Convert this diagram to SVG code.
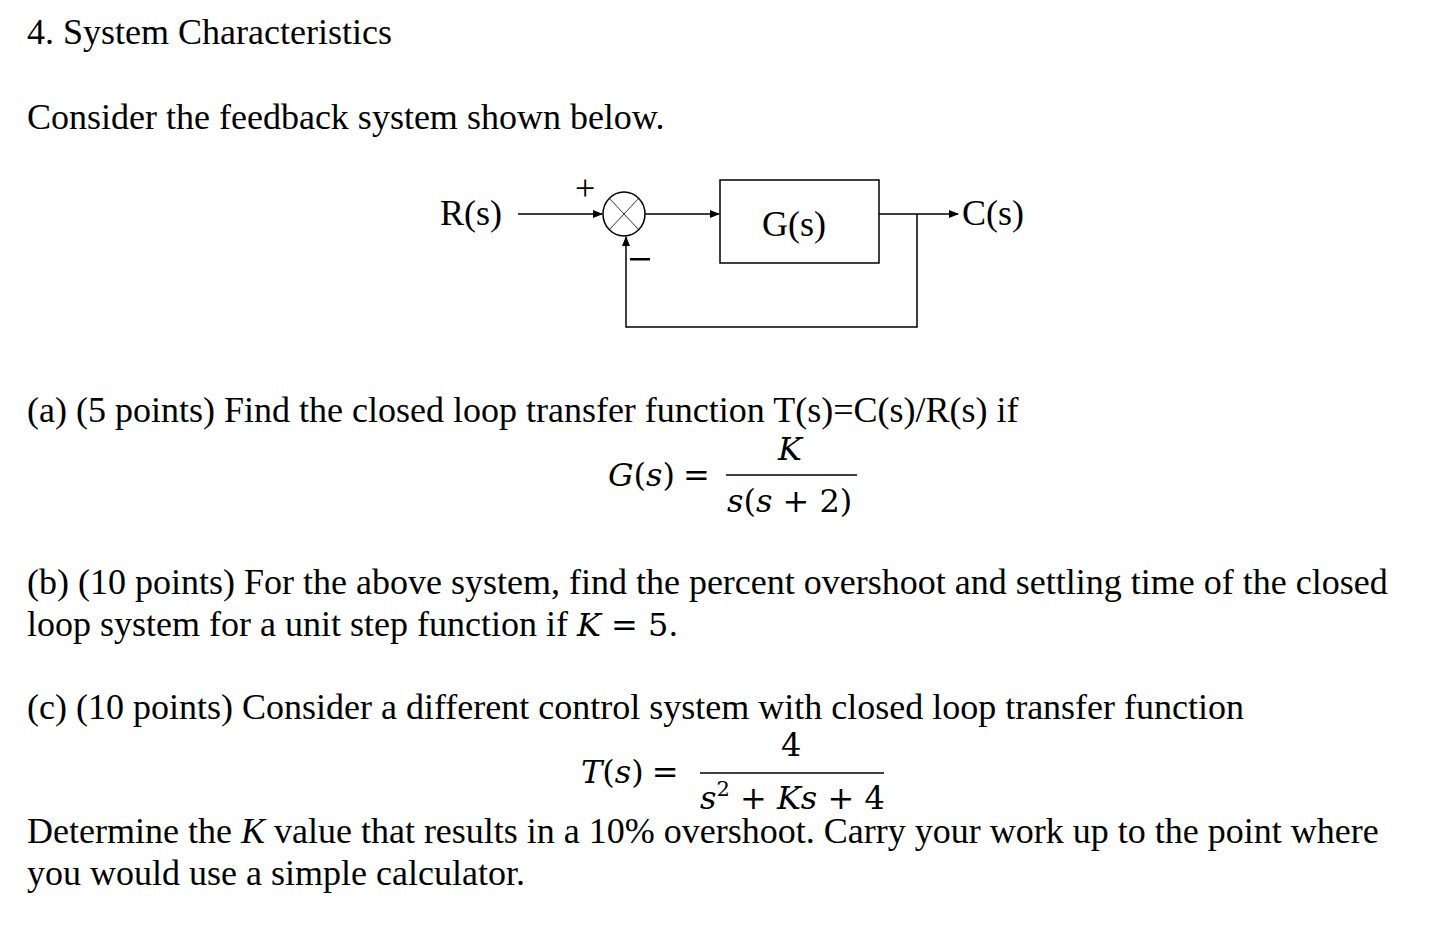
<svg xmlns="http://www.w3.org/2000/svg" width="1434" height="930" viewBox="0 0 1434 930">
<style>
.t{font-family:"Liberation Serif",serif;font-size:36px;fill:#000}
.m{font-family:"DejaVu Serif","Liberation Serif",serif;font-size:32px;fill:#000}
.i{font-style:italic}
.ln{stroke:#000;stroke-width:1.5;fill:none}
</style>
<defs><marker id="a" markerWidth="10" markerHeight="8" refX="9" refY="4" orient="auto" markerUnits="userSpaceOnUse"><path d="M0,0L10,4L0,8z" fill="#000"/></marker></defs>
<rect width="1434" height="930" fill="#fff"/>
<text class="t" x="27" y="44">4. System Characteristics</text>
<text class="t" x="27" y="129">Consider the feedback system shown below.</text>
<g id="R"><text class="t" x="440" y="225" font-size="37">R(s)</text></g>
<g id="sum"><ellipse cx="624" cy="214" rx="21" ry="22" class="ln" stroke-width="1"/>
<path d="M609,198L639,230M639,198L609,230" stroke="#000" stroke-width="0.8"/>
<text class="t" x="575" y="200" font-size="28">+</text>
<rect x="630" y="258" width="20" height="2.5" fill="#000"/></g>
<g id="G"><rect x="720" y="180" width="159" height="83" class="ln" stroke-width="1.2"/><text class="t" x="762" y="236" font-size="37">G(s)</text></g>
<g id="C"><text class="t" x="962" y="225" font-size="37">C(s)</text></g>
<g id="connectors">
<line x1="518" y1="214" x2="602" y2="214" class="ln" marker-end="url(#a)"/>
<line x1="645" y1="214" x2="719" y2="214" class="ln" marker-end="url(#a)"/>
<line x1="879" y1="214" x2="958" y2="214" class="ln" marker-end="url(#a)"/>
<polyline points="917,214 917,327 626,327 626,237" class="ln" marker-end="url(#a)"/>
</g>
<text class="t" x="27" y="422">(a) (5 points) Find the closed loop transfer function T(s)=C(s)/R(s) if</text>
<text class="m" x="608" y="486"><tspan class="i">G</tspan>(<tspan class="i">s</tspan>)<tspan dx="8">=</tspan></text>
<text class="m i" x="778" y="460">K</text>
<line x1="726" y1="475" x2="857" y2="475" stroke="#000" stroke-width="1.5"/>
<text class="m" x="727" y="512"><tspan class="i">s</tspan>(<tspan class="i">s</tspan> + 2)</text>
<text class="t" x="27" y="594">(b) (10 points) For the above system, find the percent overshoot and settling time of the closed</text>
<text class="t" x="27" y="636">loop system for a unit step function if <tspan class="m i">K</tspan><tspan class="m"> = 5.</tspan></text>
<text class="t" x="27" y="719">(c) (10 points) Consider a different control system with closed loop transfer function</text>
<text class="m" x="581" y="783"><tspan class="i">T</tspan>(<tspan class="i">s</tspan>)<tspan dx="8">=</tspan></text>
<text class="m" x="781" y="756">4</text>
<line x1="700" y1="773" x2="884" y2="773" stroke="#000" stroke-width="1.5"/>
<text class="m" x="700" y="809"><tspan class="i">s</tspan><tspan font-size="21" dy="-13">2</tspan><tspan dy="13"> + </tspan><tspan class="i">Ks</tspan> + 4</text>
<text class="t" x="27" y="843">Determine the <tspan class="i">K</tspan> value that results in a 10% overshoot. Carry your work up to the point where</text>
<text class="t" x="27" y="885">you would use a simple calculator.</text>
</svg>
